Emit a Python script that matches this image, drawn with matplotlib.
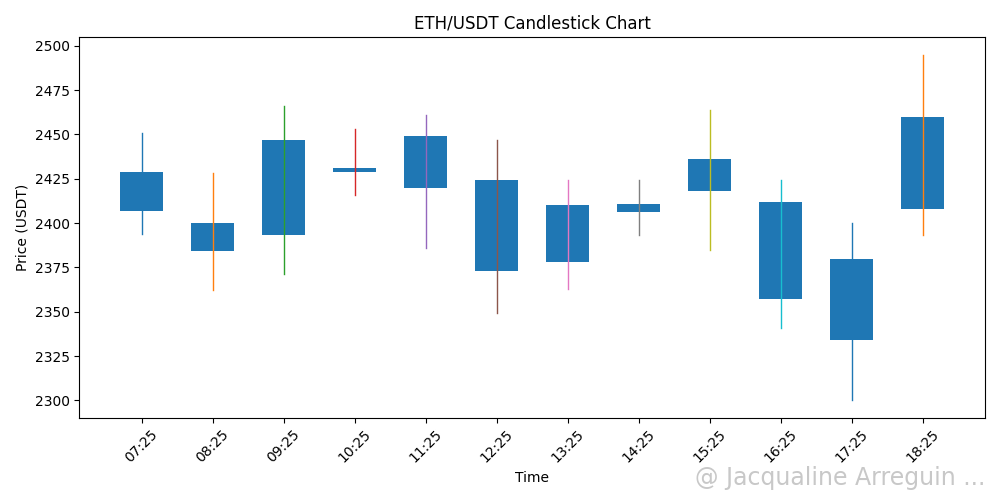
import matplotlib.pyplot as plt

# hourly candles
times = ['07:25', '08:25', '09:25', '10:25', '11:25', '12:25',
         '13:25', '14:25', '15:25', '16:25', '17:25', '18:25']
opens = [2407, 2400, 2393, 2429, 2420, 2424, 2378, 2406, 2418, 2412, 2380, 2408]
closes = [2429, 2384, 2447, 2431, 2449, 2373, 2410, 2411, 2436, 2357, 2334, 2460]
highs = [2451, 2428, 2466, 2453, 2461, 2447, 2424, 2424, 2464, 2424, 2400, 2495]
lows = [2394, 2362, 2371, 2416, 2386, 2349, 2363, 2393, 2385, 2341, 2300, 2393]

fig, ax = plt.subplots(figsize=(10, 5), dpi=100)

bottoms = [min(o, c) for o, c in zip(opens, closes)]
heights = [abs(c - o) for o, c in zip(opens, closes)]
x = list(range(len(times)))

ax.bar(x, heights, bottom=bottoms, width=0.6, color='C0')
for i in x:
    ax.plot([i, i], [lows[i], highs[i]], linewidth=1)

ax.set_xticks(x)
ax.set_xticklabels(times, rotation=45)
ax.set_title('ETH/USDT Candlestick Chart')
ax.set_xlabel('Time')
ax.set_ylabel('Price (USDT)')

plt.tight_layout()

# watermark from the source image
fig.text(0.985, 0.045, '@ Jacqualine Arreguin ...', ha='right', va='center',
         fontsize=17, color='#c8c8c8')

plt.savefig('out.png')
